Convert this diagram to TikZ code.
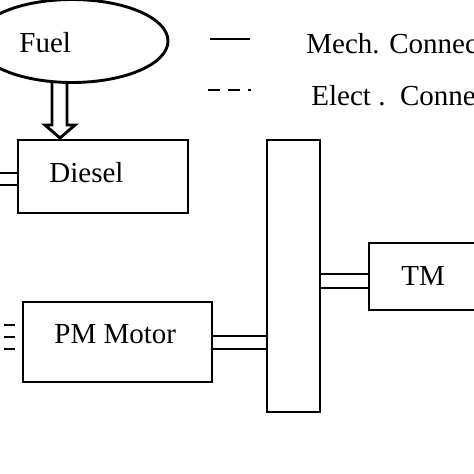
\documentclass[tikz,border=0pt]{standalone}
\usepackage{fontspec}
\setmainfont{Liberation Serif}
\usetikzlibrary{shapes.geometric}
\begin{document}
\begin{tikzpicture}[x=1pt,y=-1pt, line width=2.9pt,
  box/.style={draw, rectangle, inner sep=0pt},
  lbl/.style={anchor=base west, inner sep=0pt, font=\fontsize{29}{33}\selectfont}]
\useasboundingbox (0,0) rectangle (474,474);
\clip (0,0) rectangle (474,474);
\fill[white] (0,0) rectangle (474,474);
% Fuel ellipse
\node[draw, ellipse, minimum width=192, minimum height=83, inner sep=0pt] (fuel) at (72,41) {};
\node[lbl] (fueltxt) at (18,52) {Fuel};
% Diesel
\node[box, minimum width=170, minimum height=73] (diesel) at (103,176.5) {};
\node[lbl] (dieseltxt) at (48,182) {Diesel};
% PM motor
\node[box, minimum width=189, minimum height=80] (pm) at (117.5,342) {};
\node[lbl] (pmtxt) at (53,343) {PM Motor};
% bar
\node[box, minimum width=53, minimum height=272] (bar) at (293.5,276) {};
% TM
\node[box, minimum width=130, minimum height=67] (tm) at (434,276.5) {};
\node[lbl] (tmtxt) at (400,285) {TM};
% fuel arrow
\draw[line join=miter] (52,82) -- (52,125) -- (45,125) -- (60,138) -- (75,125) -- (67,125) -- (67,82);
% diesel left double line
\coordinate (dl1) at (0,173);
\coordinate (dl2) at (0,185);
\draw (dl1) -- (dl1 -| diesel.west);
\draw (dl2) -- (dl2 -| diesel.west);
% pm to bar
\draw (pm.east |- 0,336) -- (bar.west |- 0,336);
\draw (pm.east |- 0,349) -- (bar.west |- 0,349);
% bar to TM
\draw (bar.east |- 0,274) -- (tm.west |- 0,274);
\draw (bar.east |- 0,288) -- (tm.west |- 0,288);
% PM left dashes
\coordinate (e1) at (4,325);
\coordinate (e2) at (4,337);
\coordinate (e3) at (4,349);
\draw (e1) -- ++(11,0);
\draw (e2) -- ++(11,0);
\draw (e3) -- ++(11,0);
% legend
\coordinate (m1) at (210,39);
\coordinate (m2) at (250,39);
\draw (m1) -- (m2);
\coordinate (d1) at (208,90);
\coordinate (d2) at (251,90);
\draw[dash pattern=on 12pt off 8pt] (d1) -- (d2);
\node[lbl] (mech) at (305,53) {Mech. Connection};
\node[lbl] (elect) at (310,105) {Elect .\ \ Connection};
\end{tikzpicture}
\end{document}
